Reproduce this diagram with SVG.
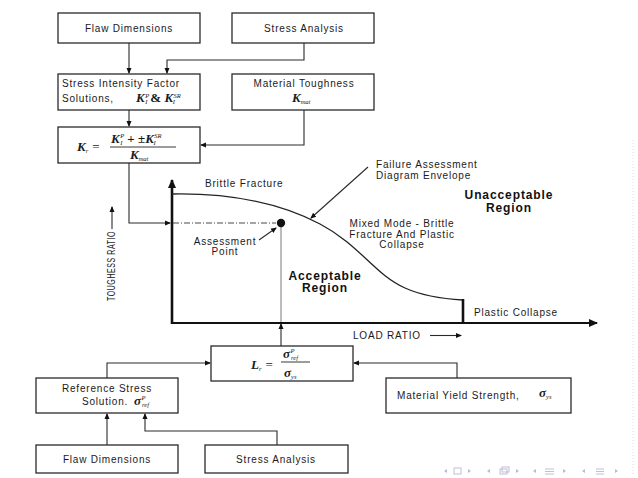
<svg xmlns="http://www.w3.org/2000/svg" width="638" height="478" viewBox="0 0 638 478">
<defs>
<marker id="ah" markerWidth="6" markerHeight="6" refX="5" refY="3" orient="auto" markerUnits="userSpaceOnUse">
<path d="M0,0.5 L6,3 L0,5.5 Z" fill="#111"/>
</marker>
<marker id="ahb" markerWidth="10" markerHeight="10" refX="8" refY="4" orient="auto" markerUnits="userSpaceOnUse">
<path d="M0,0 L9,4 L0,8 Z" fill="#111"/>
</marker>
<style>
.box{fill:#fff;stroke:#2a2a2a;stroke-width:1.3}
.t{font-family:"Liberation Sans",Arial,sans-serif;font-size:10px;letter-spacing:0.8px;fill:#1a1a1a}
.b{font-family:"Liberation Sans",Arial,sans-serif;font-size:12px;letter-spacing:0.9px;font-weight:bold;fill:#111}
.m{font-family:"Liberation Serif","Times New Roman",serif;font-style:italic;font-weight:bold;font-size:13px;fill:#1a1a1a}
.ms{font-family:"Liberation Serif","Times New Roman",serif;font-style:italic;font-weight:normal;font-size:6.5px;fill:#1a1a1a}
.c{fill:none;stroke:#2a2a2a;stroke-width:1.1}
.nav{fill:none;stroke:#b9b9cf;stroke-width:0.9}
.navf{fill:#b9b9cf}
</style>
</defs>
<rect width="638" height="478" fill="#fff"/>

<g id="connectors">
<path class="c" d="M129,43 V73" marker-end="url(#ah)"/>
<path class="c" d="M304,43 V60 H167 V73" marker-end="url(#ah)"/>
<path class="c" d="M129,110 V126" marker-end="url(#ah)"/>
<path class="c" d="M304,110 V145 H201" marker-end="url(#ah)"/>
<path class="c" d="M129,163 V223 H170" marker-end="url(#ah)"/>
<path class="c" d="M281,346 V324" marker-end="url(#ah)"/>
<path class="c" d="M107,378 V363 H210" marker-end="url(#ah)"/>
<path class="c" d="M457,378 V363 H354" marker-end="url(#ah)"/>
<path class="c" d="M107,445 V414" marker-end="url(#ah)"/>
<path class="c" d="M277,445 V431 H145 V414" marker-end="url(#ah)"/>
</g>

<g id="flaw-dimensions-top">
<rect class="box" x="58" y="13" width="142" height="30"/>
<text class="t" x="129" y="31.5" text-anchor="middle">Flaw Dimensions</text>
</g>
<g id="stress-analysis-top">
<rect class="box" x="232" y="13" width="142" height="30"/>
<text class="t" x="304" y="31.5" text-anchor="middle">Stress Analysis</text>
</g>
<g id="sif-solutions">
<rect class="box" x="58" y="74" width="142" height="36"/>
<text class="t" x="62" y="87">Stress Intensity Factor</text>
<text class="t" x="62" y="102">Solutions,</text>
<text class="m" x="136" y="102">K<tspan class="ms" dx="0.5" dy="-4.5">P</tspan><tspan class="ms" dx="-4" dy="6.5">I</tspan><tspan dx="3" dy="-2" font-style="normal">&amp;</tspan> K<tspan class="ms" dx="0.5" dy="-4.5">SR</tspan><tspan class="ms" dx="-8" dy="6.5">I</tspan></text>
</g>
<g id="material-toughness">
<rect class="box" x="232" y="74" width="142" height="36"/>
<text class="t" x="304" y="87" text-anchor="middle">Material Toughness</text>
<text class="m" x="292" y="102">K<tspan class="ms" dy="2">mat</tspan></text>
</g>
<g id="kr-formula">
<rect class="box" x="58" y="127" width="142" height="36"/>
<text class="m" x="77" y="151">K<tspan class="ms" dy="2">r</tspan><tspan dx="4" dy="-2" font-style="normal" font-weight="normal">=</tspan></text>
<text class="m" x="111" y="143">K<tspan class="ms" dx="0.5" dy="-5">P</tspan><tspan class="ms" dx="-4" dy="7">I</tspan><tspan dx="5" dy="-2" font-style="normal">+ ±</tspan>K<tspan class="ms" dx="0.5" dy="-5">SR</tspan><tspan class="ms" dx="-8" dy="7">I</tspan></text>
<line x1="110" y1="147" x2="176" y2="147" stroke="#222" stroke-width="0.9"/>
<text class="m" x="130" y="159">K<tspan class="ms" dy="2">mat</tspan></text>
</g>

<g id="fad-chart">
<line x1="172" y1="324" x2="172" y2="180" stroke="#111" stroke-width="2.6" marker-end="url(#ahb)"/>
<line x1="171" y1="323" x2="597" y2="323" stroke="#111" stroke-width="2.2" marker-end="url(#ahb)"/>
<path d="M172,194 C230,193 280,203 320,224 C360,245 375,275 405,288 C425,297 445,299 463,300" fill="none" stroke="#222" stroke-width="1.3"/>
<line x1="463" y1="299" x2="463" y2="323" stroke="#111" stroke-width="2.6"/>
<line x1="173" y1="223" x2="276" y2="223" stroke="#333" stroke-width="0.9" stroke-dasharray="6,2,1,2"/>
<line x1="281" y1="227" x2="281" y2="322" stroke="#555" stroke-width="0.8"/>
<circle cx="281" cy="223" r="4.2" fill="#111"/>
<path class="c" d="M368,167 L311,218" marker-end="url(#ah)"/>
<path class="c" d="M259,240 L276,228" marker-end="url(#ah)"/>
<text class="t" x="205" y="186.5">Brittle Fracture</text>
<text class="t" x="376" y="168">Failure Assessment</text>
<text class="t" x="376" y="178.5">Diagram Envelope</text>
<text class="b" x="509" y="199" text-anchor="middle">Unacceptable</text>
<text class="b" x="509" y="212" text-anchor="middle">Region</text>
<text class="t" x="402" y="227" text-anchor="middle">Mixed Mode - Brittle</text>
<text class="t" x="402" y="237.5" text-anchor="middle">Fracture And Plastic</text>
<text class="t" x="402" y="248" text-anchor="middle">Collapse</text>
<text class="t" x="225" y="244.5" text-anchor="middle">Assessment</text>
<text class="t" x="225" y="255" text-anchor="middle">Point</text>
<text class="b" x="325" y="279.5" text-anchor="middle">Acceptable</text>
<text class="b" x="325" y="292" text-anchor="middle">Region</text>
<text class="t" x="474" y="315.5">Plastic Collapse</text>
<text class="t" x="353" y="339">LOAD RATIO</text>
<path class="c" d="M430,335.5 H461" marker-end="url(#ah)"/>
<text class="t" transform="translate(115,301) rotate(-90)" font-size="9" letter-spacing="0" textLength="70" lengthAdjust="spacingAndGlyphs">TOUGHESS RATIO</text>
<path class="c" d="M112,229 V207" marker-end="url(#ah)"/>
</g>

<g id="lr-formula">
<rect class="box" x="211" y="346" width="142" height="35"/>
<text class="m" x="251" y="369">L<tspan class="ms" dy="2">r</tspan><tspan dx="4" dy="-2" font-style="normal" font-weight="normal">=</tspan></text>
<text class="m" x="283" y="358">σ<tspan class="ms" dx="0.5" dy="-5">P</tspan><tspan class="ms" dx="-3.5" dy="7">ref</tspan></text>
<line x1="281" y1="362" x2="310" y2="362" stroke="#222" stroke-width="0.9"/>
<text class="m" x="284" y="377">σ<tspan class="ms" dy="2">ys</tspan></text>
</g>
<g id="reference-stress">
<rect class="box" x="36" y="378" width="142" height="35"/>
<text class="t" x="107" y="392" text-anchor="middle">Reference Stress</text>
<text class="t" x="82" y="405">Solution.</text>
<text class="m" x="134" y="405">σ<tspan class="ms" dx="0.5" dy="-5">P</tspan><tspan class="ms" dx="-3.5" dy="7">ref</tspan></text>
</g>
<g id="material-yield">
<rect class="box" x="386" y="378" width="185" height="35"/>
<text class="t" x="397" y="399">Material Yield Strength,</text>
<text class="m" x="539" y="397" font-size="10">σ<tspan class="ms" dy="2">ys</tspan></text>
</g>
<g id="flaw-dimensions-bottom">
<rect class="box" x="36" y="445" width="142" height="28"/>
<text class="t" x="107" y="462.5" text-anchor="middle">Flaw Dimensions</text>
</g>
<g id="stress-analysis-bottom">
<rect class="box" x="205" y="445" width="143" height="28"/>
<text class="t" x="276" y="462.5" text-anchor="middle">Stress Analysis</text>
</g>

<g id="nav">
<path class="navf" d="M444,471 L447,469 L447,473 Z"/>
<rect class="nav" x="454" y="468" width="7" height="6"/>
<path class="navf" d="M471,471 L468,469 L468,473 Z"/>
<path class="navf" d="M487,471 L490,469 L490,473 Z"/>
<rect class="nav" x="500" y="469" width="7" height="5"/>
<rect class="nav" x="502" y="467" width="7" height="5"/>
<path class="navf" d="M519,471 L516,469 L516,473 Z"/>
<path class="navf" d="M533,471 L536,469 L536,473 Z"/>
<path class="nav" d="M545,469 H554 M545,471.5 H554 M545,474 H554"/>
<path class="navf" d="M566,471 L563,469 L563,473 Z"/>
<path class="navf" d="M582,471 L585,469 L585,473 Z"/>
<path class="nav" d="M596,469 H604 M596,471.5 H604 M596,474 H604"/>
<path class="navf" d="M618,471 L615,469 L615,473 Z"/>
<line x1="633" y1="140" x2="633" y2="476" stroke="#ddd" stroke-width="1" stroke-dasharray="1,2"/>
</g>
</svg>
